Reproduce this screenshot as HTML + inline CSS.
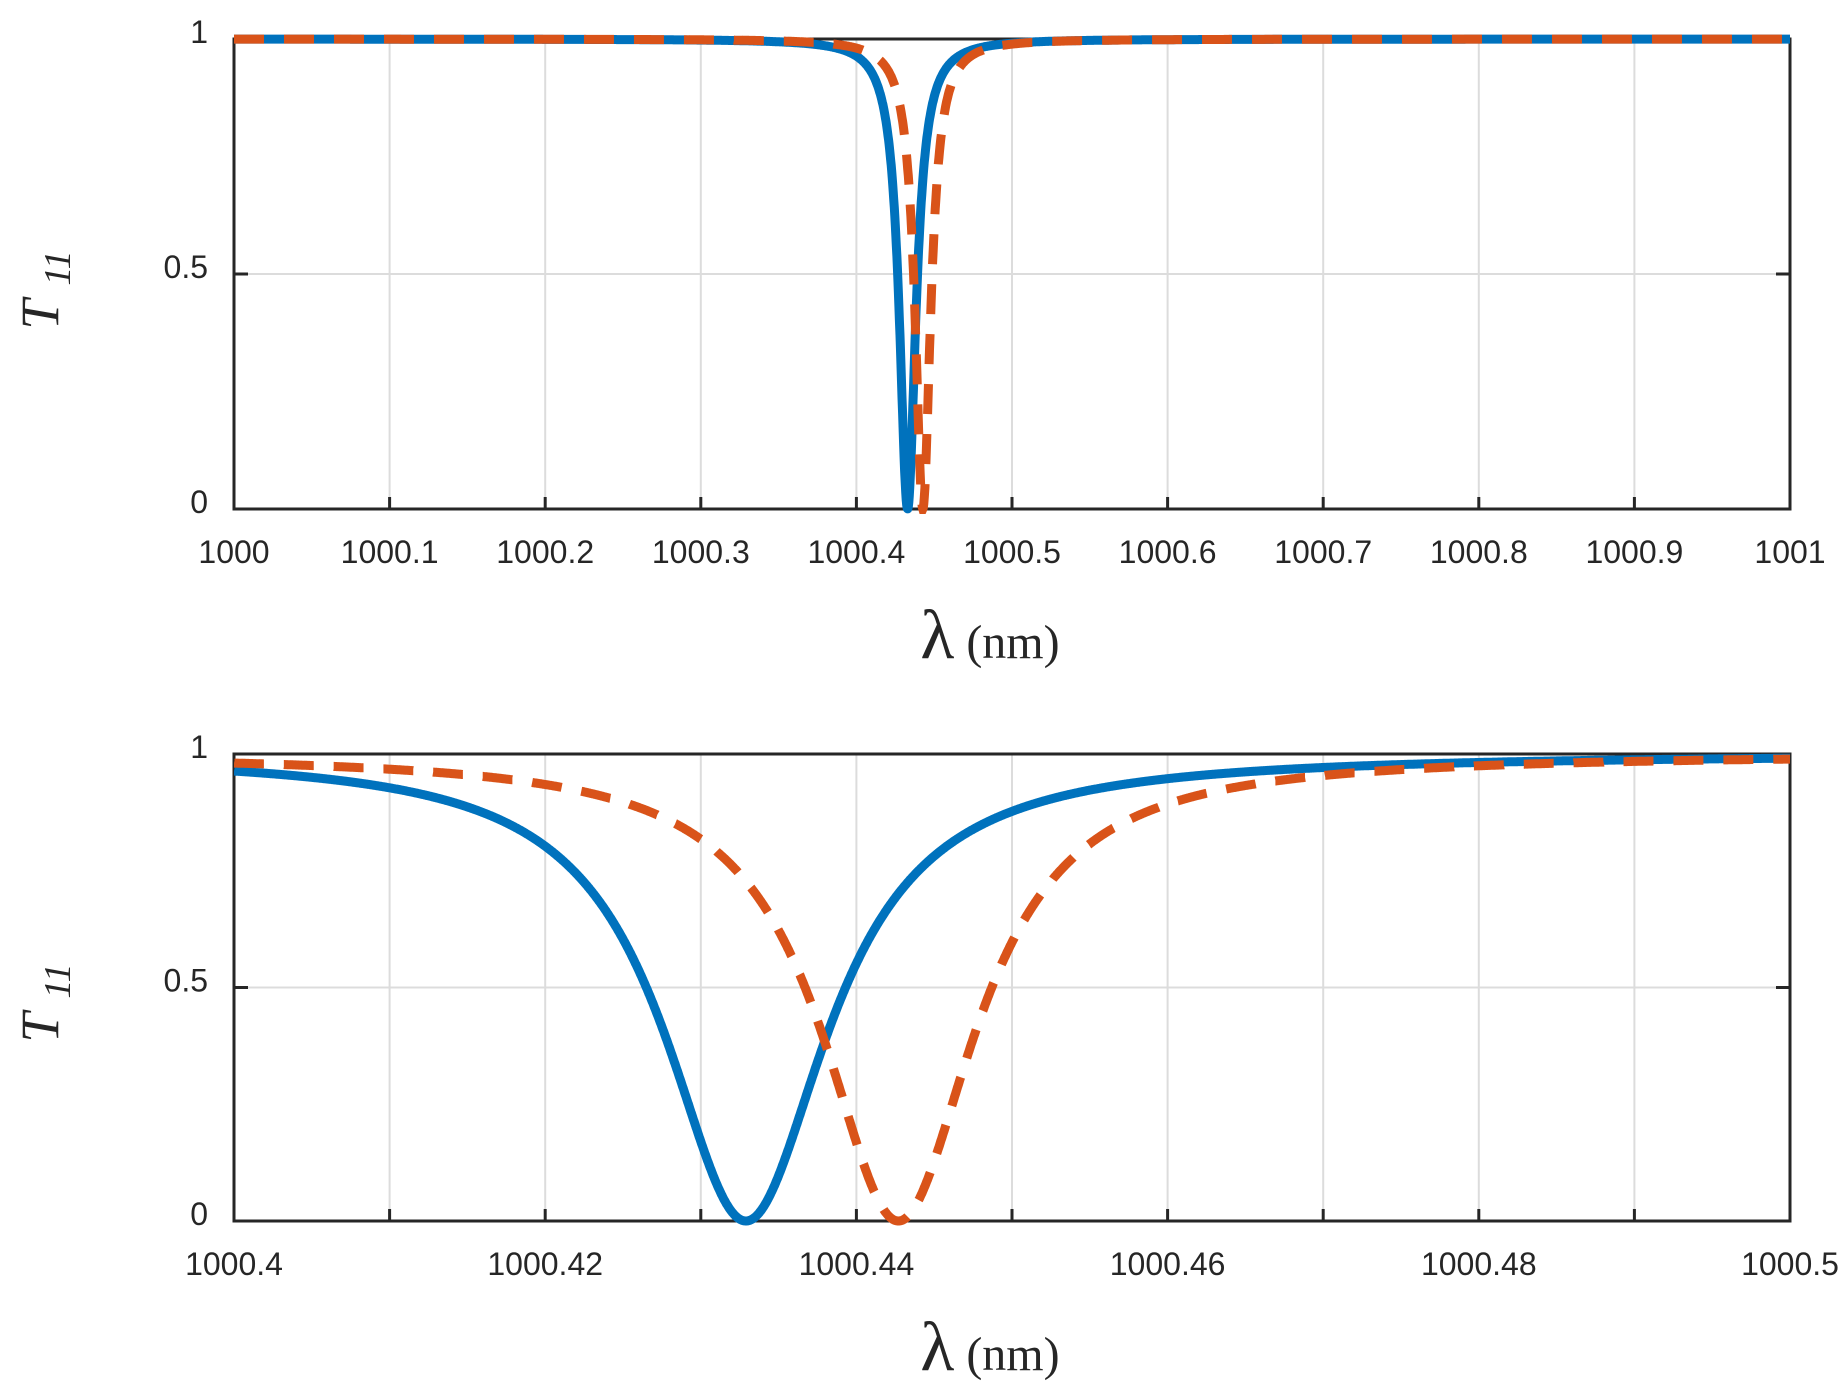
<!DOCTYPE html>
<html><head><meta charset="utf-8"><style>
html,body{margin:0;padding:0;background:#fff;}
svg{display:block;}
text{font-family:"Liberation Sans",sans-serif;fill:#262626;}
</style></head><body>
<svg id="s" width="1838" height="1397" xmlns="http://www.w3.org/2000/svg">
<defs>
<clipPath id="c1"><rect x="234" y="30" width="1556" height="484"/></clipPath>
<clipPath id="c2"><rect x="234" y="745" width="1556" height="481"/></clipPath>
</defs>
<g id="g"></g>
<text x="58" y="290" font-style="italic" font-size="54" transform="rotate(-90 58 290)" text-anchor="middle" style="font-family:'Liberation Serif',serif">T<tspan font-size="38" dx="14" dy="12">11</tspan></text>
<text x="58" y="1003" font-style="italic" font-size="54" transform="rotate(-90 58 1003)" text-anchor="middle" style="font-family:'Liberation Serif',serif">T<tspan font-size="38" dx="14" dy="12">11</tspan></text>
<text x="990" y="658" font-size="48" text-anchor="middle" style="font-family:'Liberation Serif',serif"><tspan font-size="70">λ</tspan> (nm)</text>
<text x="990" y="1370" font-size="48" text-anchor="middle" style="font-family:'Liberation Serif',serif"><tspan font-size="70">λ</tspan> (nm)</text>
</svg>
<script>
const g=document.getElementById('g');let h='';
function ax(L,R,T,B,x0,x1,xt,xl){
 const sx=v=>L+(v-x0)/(x1-x0)*(R-L), sy=v=>B-(B-T)*v;
 xt.forEach((v,i)=>{const x=sx(v);h+=`<line x1="${x}" y1="${T}" x2="${x}" y2="${B}" stroke="#dcdcdc" stroke-width="2"/>`;
  h+=`<line x1="${x}" y1="${B}" x2="${x}" y2="${B-12}" stroke="#262626" stroke-width="3"/>`;
  h+=`<text x="${x}" y="${B+54}" font-size="32" text-anchor="middle">${xl[i]}</text>`;});
 [0,0.5,1].forEach(v=>{const y=sy(v);h+=`<line x1="${L}" y1="${y}" x2="${R}" y2="${y}" stroke="#dcdcdc" stroke-width="2"/>`;
  h+=`<line x1="${L}" y1="${y}" x2="${L+14}" y2="${y}" stroke="#262626" stroke-width="3"/><line x1="${R}" y1="${y}" x2="${R-14}" y2="${y}" stroke="#262626" stroke-width="3"/>`;
  h+=`<text x="${L-26}" y="${y+4}" font-size="32" text-anchor="end">${v}</text>`;});
 h+=`<rect x="${L}" y="${T}" width="${R-L}" height="${B-T}" fill="none" stroke="#262626" stroke-width="3"/>`;
 return [sx,sy];
}
function curve(sx,sy,x0,x1,c,gm,clip,style){
 let p=[];const N=3000;
 for(let i=0;i<=N;i++){const x=x0+(x1-x0)*i/N;const d=(x-c)/gm;const t=1-1/(1+d*d);p.push(sx(x).toFixed(1)+','+sy(t).toFixed(1));}
 h+=`<polyline clip-path="url(#${clip})" points="${p.join(' ')}" fill="none" ${style}/>`;
}
const B='stroke="#0072bd" stroke-width="9" stroke-linejoin="round"', O='stroke="#d95319" stroke-width="9" stroke-dasharray="30,20"';
let [a,b]=ax(234,1790,39,509,1000,1001,[1000,1000.1,1000.2,1000.3,1000.4,1000.5,1000.6,1000.7,1000.8,1000.9,1001],['1000','1000.1','1000.2','1000.3','1000.4','1000.5','1000.6','1000.7','1000.8','1000.9','1001']);
curve(a,b,1000,1001,1000.4329,0.0064,'c1',B);curve(a,b,1000,1001,1000.4427,0.006,'c1',O);
[a,b]=ax(234,1790,754,1221,1000.4,1000.5,[1000.4,1000.41,1000.42,1000.43,1000.44,1000.45,1000.46,1000.47,1000.48,1000.49,1000.5],['1000.4','','1000.42','','1000.44','','1000.46','','1000.48','','1000.5']);
curve(a,b,1000.4,1000.5,1000.4329,0.0064,'c2',B);curve(a,b,1000.4,1000.5,1000.4427,0.006,'c2',O);
g.innerHTML=h;
</script>
</body></html>
